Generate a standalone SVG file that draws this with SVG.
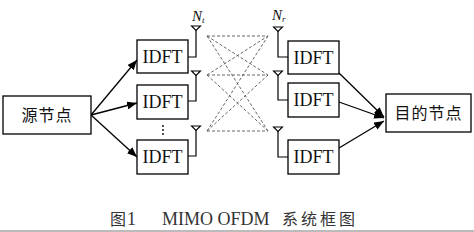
<svg xmlns="http://www.w3.org/2000/svg" width="474" height="232" viewBox="0 0 474 232">
<style>
.box{fill:#fff;stroke:#000;stroke-width:1.3}
.lbl{font-family:"Liberation Serif","Times New Roman",serif;font-size:18px;text-anchor:middle;fill:#111}
.cjk{font-family:"Noto Sans CJK SC",sans-serif;font-size:16px;text-anchor:middle;fill:#111;letter-spacing:1px}
.wire{fill:none;stroke:#000;stroke-width:1.2}
.arr{fill:none;stroke:#000;stroke-width:1.3;marker-end:url(#ah)}
.dash{fill:none;stroke:#555;stroke-width:0.9;stroke-dasharray:3 2}
.ant{fill:#fff;stroke:#000;stroke-width:1.1}
.it{font-family:"Liberation Serif","Times New Roman",serif;font-style:italic;fill:#111}
.cap{font-family:"Liberation Serif","Noto Sans CJK SC",serif;font-size:18px;fill:#333}
.capc{font-family:"Noto Sans CJK SC",sans-serif;font-size:16px;fill:#333}
</style>
<defs>
<marker id="ah" markerWidth="10" markerHeight="8" refX="10" refY="4" orient="auto" markerUnits="userSpaceOnUse">
<path d="M0,0 L10,4 L0,8 Z" fill="#000"/>
</marker>
<path id="antL" class="ant" d="M-4.5,0 L4.5,0 L0,4.5 Z"/>
</defs>
<g id="connectors">
<line class="arr" x1="91" y1="115" x2="137" y2="60"/>
<line class="arr" x1="91" y1="115" x2="137" y2="103"/>
<line class="arr" x1="91" y1="115" x2="137" y2="157"/>
<line class="arr" x1="339" y1="73" x2="384" y2="117"/>
<line class="arr" x1="339" y1="102" x2="384" y2="118"/>
<line class="arr" x1="339" y1="148" x2="384" y2="121"/>
<path class="wire" d="M188,57 H196 V30"/>
<path class="wire" d="M188,101 H196 V75"/>
<path class="wire" d="M188,156 H196 V130"/>
<path class="wire" d="M288,57 H278 V31"/>
<path class="wire" d="M288,100 H278 V75"/>
<path class="wire" d="M288,157 H278 V131"/>
<g id="channel">
<line class="dash" x1="207" y1="36" x2="268" y2="36"/>
<line class="dash" x1="207" y1="36" x2="268" y2="75"/>
<line class="dash" x1="207" y1="36" x2="268" y2="131"/>
<line class="dash" x1="207" y1="75" x2="268" y2="36"/>
<line class="dash" x1="207" y1="75" x2="268" y2="75"/>
<line class="dash" x1="207" y1="75" x2="268" y2="131"/>
<line class="dash" x1="207" y1="131" x2="268" y2="36"/>
<line class="dash" x1="207" y1="131" x2="268" y2="75"/>
<line class="dash" x1="207" y1="131" x2="268" y2="131"/>
</g>
</g>
<g id="antennas">
<use href="#antL" x="196" y="26"/>
<use href="#antL" x="196" y="71"/>
<use href="#antL" x="196" y="126"/>
<use href="#antL" x="278" y="27"/>
<use href="#antL" x="278" y="71"/>
<use href="#antL" x="278" y="127"/>
<text class="it" x="192" y="21" font-size="15">N<tspan font-size="9" dy="2">t</tspan></text>
<text class="it" x="272" y="20" font-size="15">N<tspan font-size="9" dy="2">r</tspan></text>
</g>
<g id="src">
<rect class="box" x="3" y="96" width="88" height="38"/>
<text class="cjk" x="47" y="121">源节点</text>
</g>
<g id="idft-t1">
<rect class="box" x="137" y="40" width="51" height="33"/>
<text class="lbl" x="162.5" y="63">IDFT</text>
</g>
<g id="idft-t2">
<rect class="box" x="137" y="85" width="51" height="34"/>
<text class="lbl" x="162.5" y="108">IDFT</text>
</g>
<g id="dots">
<circle cx="163" cy="126" r="0.9" fill="#000"/>
<circle cx="163" cy="130" r="0.9" fill="#000"/>
<circle cx="163" cy="134" r="0.9" fill="#000"/>
</g>
<g id="idft-t3">
<rect class="box" x="137" y="140" width="51" height="34"/>
<text class="lbl" x="162.5" y="163">IDFT</text>
</g>
<g id="idft-r1">
<rect class="box" x="288" y="41" width="51" height="33"/>
<text class="lbl" x="313.5" y="64">IDFT</text>
</g>
<g id="idft-r2">
<rect class="box" x="288" y="83" width="51" height="34"/>
<text class="lbl" x="313.5" y="106">IDFT</text>
</g>
<g id="idft-r3">
<rect class="box" x="288" y="140" width="51" height="34"/>
<text class="lbl" x="313.5" y="163">IDFT</text>
</g>
<g id="dst">
<rect class="box" x="386" y="94" width="85" height="38"/>
<text class="cjk" x="428.5" y="119">目的节点</text>
</g>
<g id="caption">
<text class="capc" x="110" y="225">图</text>
<text class="cap" x="127" y="225">1</text>
<text class="cap" x="162" y="225">MIMO OFDM</text>
<text class="capc" x="282" y="225" letter-spacing="3">系统框图</text>
</g>
<rect x="0" y="230" width="474" height="2" fill="#bbb"/>
</svg>
